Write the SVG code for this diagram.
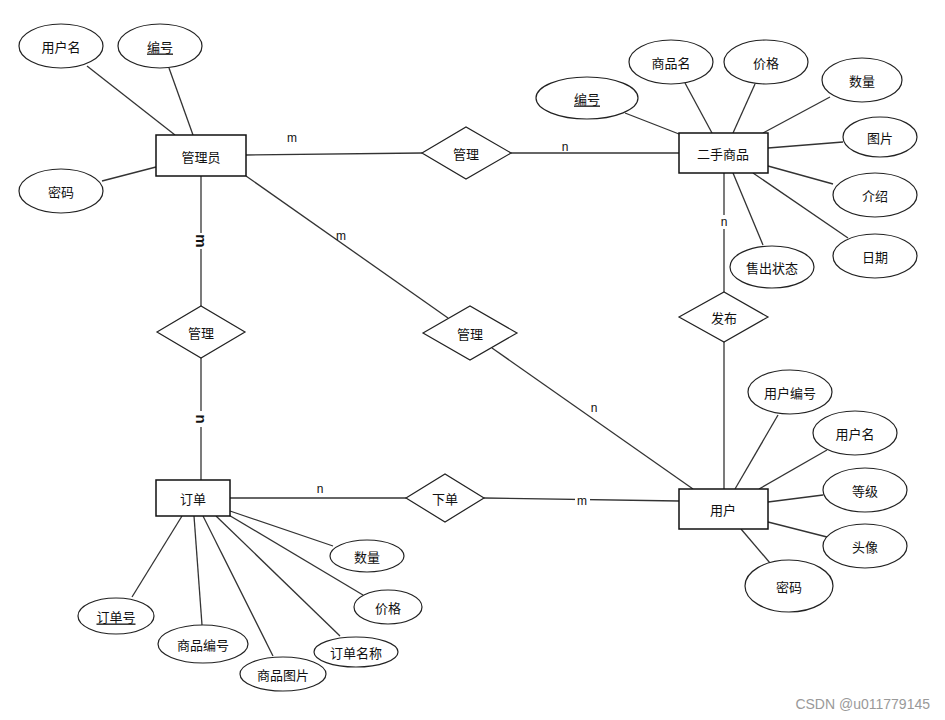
<svg xmlns="http://www.w3.org/2000/svg" width="945" height="720" viewBox="0 0 945 720">
<style>
.e{fill:#fff;stroke:#222;stroke-width:1.2}
.r{fill:#fff;stroke:#111;stroke-width:1.5}
.d{fill:#fff;stroke:#222;stroke-width:1.2}
.t{font-family:"Noto Sans CJK SC","Noto Sans",sans-serif;font-size:13px;fill:#111;text-anchor:middle;dominant-baseline:central}
.u{text-decoration:underline}
.l{font-family:"Liberation Sans",Arial,sans-serif;font-size:12px;fill:#111;text-anchor:middle;dominant-baseline:central}
.lr{font-size:15px;font-weight:bold}
#conn line{stroke:#333;stroke-width:1.3}
</style>
<rect width="945" height="720" fill="#fff"/>
<g id="conn">
<line x1="87" y1="66" x2="175" y2="135"/>
<line x1="169" y1="68" x2="193" y2="135"/>
<line x1="102" y1="181" x2="156" y2="167"/>
<line x1="246" y1="155" x2="422" y2="153"/>
<line x1="511" y1="153" x2="679" y2="153"/>
<line x1="201" y1="176" x2="201" y2="306"/>
<line x1="201" y1="358" x2="201" y2="480"/>
<line x1="246" y1="176" x2="448" y2="318"/>
<line x1="492" y1="348" x2="693" y2="489"/>
<line x1="625" y1="113" x2="679" y2="134"/>
<line x1="685" y1="83" x2="712" y2="133"/>
<line x1="755" y1="84" x2="733" y2="133"/>
<line x1="830" y1="97" x2="763" y2="133"/>
<line x1="843" y1="142" x2="768" y2="148"/>
<line x1="833" y1="184" x2="768" y2="166"/>
<line x1="848" y1="238" x2="753" y2="173"/>
<line x1="763" y1="245" x2="733" y2="173"/>
<line x1="724" y1="173" x2="724" y2="292"/>
<line x1="724" y1="342" x2="724" y2="489"/>
<line x1="778" y1="415" x2="735" y2="489"/>
<line x1="827" y1="450" x2="759" y2="489"/>
<line x1="823" y1="495" x2="768" y2="502"/>
<line x1="827" y1="537" x2="768" y2="522"/>
<line x1="770" y1="563" x2="741" y2="529"/>
<line x1="230" y1="498" x2="406" y2="498"/>
<line x1="484" y1="498" x2="679" y2="501"/>
<line x1="132" y1="597" x2="182" y2="516"/>
<line x1="202" y1="625" x2="194" y2="516"/>
<line x1="273" y1="656" x2="203" y2="516"/>
<line x1="340" y1="636" x2="216" y2="516"/>
<line x1="363" y1="595" x2="227" y2="514"/>
<line x1="333" y1="546" x2="230" y2="511"/>
</g>
<g id="labels">
<text class="l" x="292" y="138">m</text>
<text class="l" x="565" y="147">n</text>
<text class="l" x="341" y="236">m</text>
<text class="l" x="594" y="408">n</text>
<text class="l" x="320" y="489">n</text>
<rect x="575" y="494" width="15" height="14" fill="#fff"/>
<text class="l" x="582" y="501">m</text>
<rect x="718" y="215" width="12" height="14" fill="#fff"/>
<text class="l" x="724" y="222">n</text>
<rect x="194" y="233" width="14" height="16" fill="#fff"/>
<text class="l lr" transform="translate(201,241) rotate(90)">m</text>
<rect x="194" y="411" width="14" height="16" fill="#fff"/>
<text class="l lr" transform="translate(201,419) rotate(90)">n</text>
</g>
<g id="admin"><rect class="r" x="156" y="135" width="90" height="41"/><text class="t" x="201" y="156">管理员</text></g>
<g id="admin-name"><ellipse class="e" cx="61" cy="46" rx="42" ry="22"/><text class="t" x="61" y="46">用户名</text></g>
<g id="admin-id"><ellipse class="e" cx="160" cy="46" rx="42" ry="22"/><text class="t u" x="160" y="46">编号</text></g>
<g id="admin-pwd"><ellipse class="e" cx="61" cy="191" rx="42" ry="22"/><text class="t" x="61" y="191">密码</text></g>
<g id="rel-manage-goods"><polygon class="d" points="422,153 466,127 511,153 466,179"/><text class="t" x="466" y="153">管理</text></g>
<g id="rel-manage-order"><polygon class="d" points="157,332 201,306 245,332 201,358"/><text class="t" x="201" y="332">管理</text></g>
<g id="rel-manage-user"><polygon class="d" points="423,333 470,306 517,333 470,360"/><text class="t" x="470" y="333">管理</text></g>
<g id="goods"><rect class="r" x="679" y="133" width="89" height="40"/><text class="t" x="723" y="153">二手商品</text></g>
<g id="goods-id"><ellipse class="e" cx="587" cy="98" rx="51" ry="21"/><text class="t u" x="587" y="98">编号</text></g>
<g id="goods-name"><ellipse class="e" cx="671" cy="62" rx="42" ry="22"/><text class="t" x="671" y="62">商品名</text></g>
<g id="goods-price"><ellipse class="e" cx="766" cy="62" rx="42" ry="22"/><text class="t" x="766" y="62">价格</text></g>
<g id="goods-qty"><ellipse class="e" cx="862" cy="80" rx="40" ry="22"/><text class="t" x="862" y="80">数量</text></g>
<g id="goods-img"><ellipse class="e" cx="880" cy="137" rx="37" ry="20"/><text class="t" x="880" y="137">图片</text></g>
<g id="goods-intro"><ellipse class="e" cx="875" cy="195" rx="42" ry="22"/><text class="t" x="875" y="195">介绍</text></g>
<g id="goods-date"><ellipse class="e" cx="875" cy="256" rx="42" ry="22"/><text class="t" x="875" y="256">日期</text></g>
<g id="goods-status"><ellipse class="e" cx="772" cy="267" rx="42" ry="21"/><text class="t" x="772" y="267">售出状态</text></g>
<g id="rel-publish"><polygon class="d" points="679,317 724,292 768,317 724,342"/><text class="t" x="724" y="317">发布</text></g>
<g id="user"><rect class="r" x="679" y="489" width="89" height="40"/><text class="t" x="723" y="509">用户</text></g>
<g id="user-id"><ellipse class="e" cx="790" cy="392" rx="42" ry="22"/><text class="t" x="790" y="392">用户编号</text></g>
<g id="user-name"><ellipse class="e" cx="855" cy="433" rx="42" ry="22"/><text class="t" x="855" y="433">用户名</text></g>
<g id="user-level"><ellipse class="e" cx="865" cy="490" rx="42" ry="22"/><text class="t" x="865" y="490">等级</text></g>
<g id="user-avatar"><ellipse class="e" cx="865" cy="546" rx="42" ry="22"/><text class="t" x="865" y="546">头像</text></g>
<g id="user-pwd"><ellipse class="e" cx="789" cy="586" rx="44" ry="26"/><text class="t" x="789" y="586">密码</text></g>
<g id="rel-order"><polygon class="d" points="406,498 445,474 484,498 445,522"/><text class="t" x="445" y="498">下单</text></g>
<g id="order"><rect class="r" x="156" y="480" width="74" height="36"/><text class="t" x="193" y="498">订单</text></g>
<g id="order-no"><ellipse class="e" cx="116" cy="616" rx="38" ry="18"/><text class="t u" x="116" y="616">订单号</text></g>
<g id="order-goods-id"><ellipse class="e" cx="203" cy="644" rx="45" ry="19"/><text class="t" x="203" y="644">商品编号</text></g>
<g id="order-goods-img"><ellipse class="e" cx="283" cy="674" rx="43" ry="17"/><text class="t" x="283" y="674">商品图片</text></g>
<g id="order-name"><ellipse class="e" cx="356" cy="652" rx="42" ry="15"/><text class="t" x="356" y="652">订单名称</text></g>
<g id="order-price"><ellipse class="e" cx="388" cy="607" rx="34" ry="17"/><text class="t" x="388" y="607">价格</text></g>
<g id="order-qty"><ellipse class="e" cx="367" cy="556" rx="37" ry="16"/><text class="t" x="367" y="556">数量</text></g>
<text x="930" y="704" font-family="Liberation Sans,Arial,sans-serif" font-size="14" fill="#999" text-anchor="end" dominant-baseline="central">CSDN @u011779145</text>
</svg>
